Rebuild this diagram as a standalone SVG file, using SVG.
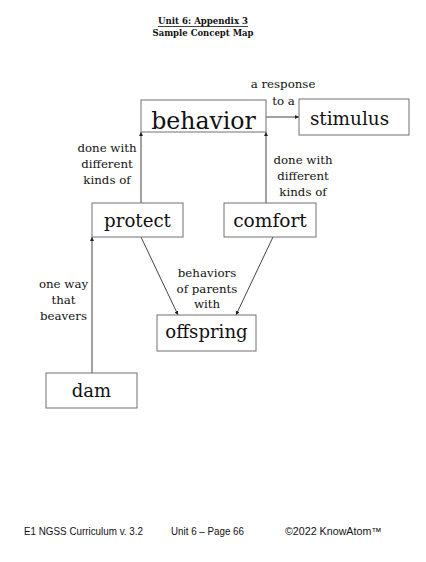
<svg xmlns="http://www.w3.org/2000/svg" width="426" height="562" viewBox="0 0 426 562">
<style>
.box{fill:#fff;stroke:#707070;stroke-width:1}
.node{font-family:"DejaVu Serif","Liberation Serif",serif;fill:#111;text-anchor:middle}
.lbl{font-family:"DejaVu Serif","Liberation Serif",serif;font-size:11.8px;fill:#111;text-anchor:middle}
.edge{stroke:#444;stroke-width:1;fill:none;marker-end:url(#ah)}
.title{font-family:"DejaVu Serif","Liberation Serif",serif;font-weight:bold;font-size:9.5px;fill:#111;text-anchor:middle}
.foot{font-family:"Liberation Sans","DejaVu Sans",sans-serif;font-size:10.5px;fill:#111}
</style>
<defs>
<marker id="ah" viewBox="0 0 10 10" refX="10" refY="5" markerWidth="4" markerHeight="4" orient="auto" markerUnits="userSpaceOnUse">
<path d="M0,0 L10,5 L0,10 z" fill="#222"/>
</marker>
</defs>
<rect width="426" height="562" fill="#fff"/>
<g id="title">
<text class="title" x="203" y="24" textLength="90" lengthAdjust="spacingAndGlyphs">Unit 6: Appendix 3</text>
<line x1="158" y1="26.5" x2="248" y2="26.5" stroke="#111" stroke-width="0.8"/>
<text class="title" x="203" y="36" textLength="101" lengthAdjust="spacingAndGlyphs">Sample Concept Map</text>
</g>
<g id="connectors">
<line class="edge" x1="266" y1="117" x2="299" y2="117"/>
<line class="edge" x1="141" y1="203" x2="141" y2="132"/>
<line class="edge" x1="266" y1="203" x2="266" y2="132"/>
<line class="edge" x1="92" y1="373" x2="92" y2="237"/>
<line class="edge" x1="141" y1="237" x2="178" y2="315"/>
<line class="edge" x1="273" y1="237" x2="236" y2="315"/>
<text class="lbl" x="283" y="88">a response</text>
<text class="lbl" x="283.5" y="105">to a</text>
<text class="lbl" x="107" y="152">done with</text>
<text class="lbl" x="107" y="168">different</text>
<text class="lbl" x="107" y="184">kinds of</text>
<text class="lbl" x="303" y="164">done with</text>
<text class="lbl" x="303" y="180">different</text>
<text class="lbl" x="303" y="196">kinds of</text>
<text class="lbl" x="63.5" y="288">one way</text>
<text class="lbl" x="63.5" y="304">that</text>
<text class="lbl" x="63.5" y="320">beavers</text>
<text class="lbl" x="207" y="277">behaviors</text>
<text class="lbl" x="207" y="292.5">of parents</text>
<text class="lbl" x="207" y="308">with</text>
</g>
<g id="behavior">
<rect class="box" x="141" y="100" width="125" height="32"/>
<text class="node" x="203.5" y="129" font-size="23.6">behavior</text>
</g>
<g id="stimulus">
<rect class="box" x="299" y="99" width="110" height="36"/>
<text class="node" x="349.5" y="125" font-size="18.4">stimulus</text>
</g>
<g id="protect">
<rect class="box" x="92" y="203" width="91" height="34"/>
<text class="node" x="137.5" y="227" font-size="18.2">protect</text>
</g>
<g id="comfort">
<rect class="box" x="224" y="203" width="92" height="34"/>
<text class="node" x="270" y="227" font-size="18.6">comfort</text>
</g>
<g id="offspring">
<rect class="box" x="157" y="315" width="99" height="36"/>
<text class="node" x="206.5" y="338" font-size="18.1">offspring</text>
</g>
<g id="dam">
<rect class="box" x="46" y="373" width="91" height="35"/>
<text class="node" x="91.5" y="397" font-size="18">dam</text>
</g>
<g id="footer">
<text class="foot" x="24" y="535" textLength="119" lengthAdjust="spacingAndGlyphs">E1 NGSS Curriculum v. 3.2</text>
<text class="foot" x="171" y="535" textLength="73" lengthAdjust="spacingAndGlyphs">Unit 6 – Page 66</text>
<text class="foot" x="285" y="535" textLength="97" lengthAdjust="spacingAndGlyphs">©2022 KnowAtom™</text>
</g>
</svg>
